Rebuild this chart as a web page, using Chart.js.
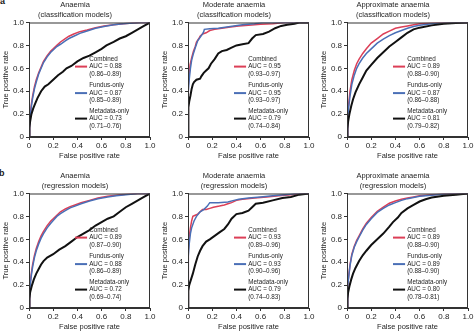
<!DOCTYPE html>
<html>
<head>
<meta charset="utf-8">
<script src="https://cdn.jsdelivr.net/npm/chart.js@4.4.0/dist/chart.umd.min.js"></script>
<style>
  html, body { margin: 0; padding: 0; width: 474px; height: 332px; overflow: hidden; background: #fff; }
  canvas { position: absolute; }
  .tag { position: absolute; font: bold 9px "Liberation Sans", Arial, sans-serif; line-height: 10px; color: #1a1a1a; }
</style>
</head>
<body>
<div class="tag" style="left:0px;top:-4px">a</div>
<div class="tag" style="left:-1px;top:168px">b</div>
<canvas id="p0" width="179" height="161" style="left:0px;top:0px"></canvas>
<canvas id="p1" width="179" height="161" style="left:159px;top:0px"></canvas>
<canvas id="p2" width="179" height="161" style="left:318px;top:0px"></canvas>
<canvas id="p3" width="179" height="161" style="left:0px;top:171px"></canvas>
<canvas id="p4" width="179" height="161" style="left:159px;top:171px"></canvas>
<canvas id="p5" width="179" height="161" style="left:318px;top:171px"></canvas>
<script>
// ROC points [false positive rate, true positive rate]

// a: classification models
const clsAnaemiaCombined = [[0,0],[0.005,0.12],[0.01,0.2],[0.02,0.29],[0.03,0.36],[0.045,0.44],[0.06,0.5],[0.08,0.56],[0.1,0.61],[0.12,0.66],[0.15,0.71],[0.18,0.75],[0.2,0.77],[0.23,0.8],[0.26,0.83],[0.3,0.86],[0.33,0.88],[0.37,0.9],[0.42,0.92],[0.48,0.935],[0.55,0.955],[0.62,0.97],[0.7,0.98],[0.78,0.99],[0.85,0.995],[0.92,1],[1,1]];
const clsAnaemiaFundus = [[0,0],[0.005,0.1],[0.01,0.18],[0.02,0.27],[0.03,0.34],[0.045,0.42],[0.06,0.48],[0.08,0.55],[0.1,0.6],[0.12,0.65],[0.15,0.7],[0.18,0.74],[0.2,0.76],[0.23,0.79],[0.26,0.81],[0.3,0.84],[0.33,0.86],[0.37,0.88],[0.42,0.905],[0.48,0.925],[0.55,0.95],[0.62,0.965],[0.7,0.98],[0.78,0.99],[0.86,0.995],[0.93,1],[1,1]];
const clsAnaemiaMeta = [[0,0],[0.003,0.08],[0.01,0.14],[0.02,0.2],[0.035,0.25],[0.05,0.29],[0.07,0.34],[0.1,0.4],[0.13,0.44],[0.16,0.46],[0.2,0.5],[0.24,0.54],[0.28,0.57],[0.31,0.6],[0.35,0.62],[0.4,0.66],[0.45,0.69],[0.5,0.71],[0.55,0.74],[0.6,0.77],[0.64,0.8],[0.7,0.83],[0.75,0.86],[0.8,0.88],[0.85,0.91],[0.9,0.94],[0.95,0.97],[1,1]];

const clsModerateCombined = [[0,0],[0,0.3],[0.005,0.45],[0.01,0.55],[0.017,0.63],[0.03,0.69],[0.045,0.75],[0.06,0.79],[0.07,0.83],[0.09,0.86],[0.1,0.88],[0.12,0.9],[0.15,0.91],[0.18,0.93],[0.22,0.94],[0.28,0.95],[0.35,0.96],[0.42,0.97],[0.5,0.975],[0.6,0.985],[0.7,0.99],[0.8,1],[1,1]];
const clsModerateFundus = [[0,0],[0,0.25],[0.005,0.4],[0.01,0.5],[0.02,0.6],[0.03,0.67],[0.045,0.73],[0.06,0.78],[0.08,0.84],[0.1,0.87],[0.12,0.9],[0.13,0.92],[0.135,0.94],[0.18,0.945],[0.25,0.95],[0.35,0.965],[0.45,0.98],[0.55,0.99],[0.62,1],[1,1]];
const clsModerateMeta = [[0,0],[0,0.12],[0.003,0.2],[0.006,0.26],[0.01,0.31],[0.02,0.36],[0.03,0.42],[0.04,0.46],[0.05,0.48],[0.07,0.5],[0.1,0.51],[0.11,0.53],[0.13,0.56],[0.15,0.58],[0.17,0.6],[0.19,0.64],[0.22,0.68],[0.25,0.73],[0.28,0.75],[0.32,0.76],[0.36,0.78],[0.4,0.8],[0.45,0.81],[0.5,0.82],[0.53,0.86],[0.56,0.89],[0.62,0.9],[0.67,0.92],[0.72,0.95],[0.77,0.97],[0.82,0.98],[0.88,0.99],[0.92,1],[1,1]];

const clsApproxCombined = [[0,0],[0.003,0.1],[0.008,0.2],[0.015,0.3],[0.025,0.4],[0.04,0.5],[0.06,0.58],[0.08,0.64],[0.1,0.68],[0.13,0.73],[0.16,0.77],[0.2,0.82],[0.25,0.86],[0.3,0.9],[0.35,0.925],[0.4,0.95],[0.45,0.96],[0.5,0.97],[0.55,0.98],[0.6,0.99],[0.7,0.995],[0.8,1],[1,1]];
const clsApproxFundus = [[0,0],[0.003,0.09],[0.008,0.18],[0.015,0.27],[0.025,0.36],[0.04,0.46],[0.06,0.54],[0.08,0.6],[0.1,0.64],[0.13,0.69],[0.16,0.73],[0.2,0.77],[0.25,0.82],[0.3,0.855],[0.35,0.885],[0.4,0.91],[0.45,0.93],[0.5,0.95],[0.55,0.965],[0.6,0.975],[0.7,0.99],[0.8,0.995],[0.9,1],[1,1]];
const clsApproxMeta = [[0,0],[0.003,0.07],[0.01,0.14],[0.02,0.2],[0.035,0.27],[0.05,0.33],[0.07,0.39],[0.1,0.46],[0.13,0.52],[0.16,0.58],[0.2,0.63],[0.25,0.69],[0.3,0.74],[0.35,0.79],[0.4,0.83],[0.45,0.87],[0.5,0.91],[0.55,0.94],[0.6,0.955],[0.7,0.975],[0.8,0.99],[0.9,0.995],[1,1]];

// b: regression models
const regAnaemiaCombined = [[0,0],[0.005,0.14],[0.01,0.22],[0.02,0.31],[0.03,0.38],[0.045,0.46],[0.06,0.52],[0.08,0.58],[0.1,0.63],[0.12,0.67],[0.15,0.72],[0.18,0.76],[0.2,0.78],[0.23,0.81],[0.26,0.84],[0.3,0.865],[0.34,0.885],[0.38,0.9],[0.43,0.92],[0.5,0.94],[0.57,0.96],[0.65,0.975],[0.72,0.985],[0.8,0.993],[0.9,1],[1,1]];
const regAnaemiaFundus = [[0,0],[0.005,0.12],[0.01,0.2],[0.02,0.29],[0.03,0.36],[0.045,0.44],[0.06,0.5],[0.08,0.56],[0.1,0.61],[0.12,0.65],[0.15,0.7],[0.18,0.74],[0.2,0.765],[0.23,0.8],[0.26,0.825],[0.3,0.85],[0.34,0.875],[0.38,0.89],[0.43,0.91],[0.5,0.935],[0.57,0.955],[0.65,0.97],[0.72,0.98],[0.8,0.99],[0.9,1],[1,1]];
const regAnaemiaMeta = [[0,0],[0.003,0.08],[0.01,0.14],[0.025,0.2],[0.04,0.25],[0.06,0.3],[0.08,0.34],[0.1,0.38],[0.12,0.41],[0.15,0.44],[0.2,0.47],[0.25,0.51],[0.3,0.54],[0.35,0.58],[0.4,0.62],[0.45,0.65],[0.5,0.68],[0.55,0.72],[0.6,0.75],[0.65,0.78],[0.7,0.8],[0.75,0.84],[0.8,0.88],[0.85,0.91],[0.9,0.94],[0.95,0.97],[1,1]];

const regModerateCombined = [[0,0],[0,0.3],[0.005,0.5],[0.01,0.62],[0.02,0.7],[0.03,0.76],[0.04,0.8],[0.06,0.81],[0.08,0.82],[0.1,0.84],[0.12,0.86],[0.15,0.86],[0.18,0.87],[0.21,0.88],[0.26,0.89],[0.3,0.9],[0.33,0.91],[0.36,0.92],[0.4,0.94],[0.45,0.95],[0.55,0.96],[0.65,0.97],[0.75,0.98],[0.85,0.99],[0.95,1],[1,1]];
const regModerateFundus = [[0,0],[0,0.25],[0.005,0.45],[0.01,0.56],[0.02,0.65],[0.03,0.7],[0.05,0.76],[0.07,0.8],[0.1,0.84],[0.13,0.86],[0.16,0.89],[0.18,0.92],[0.25,0.92],[0.33,0.925],[0.38,0.94],[0.42,0.95],[0.5,0.96],[0.6,0.97],[0.7,0.98],[0.8,0.99],[0.9,1],[1,1]];
const regModerateMeta = [[0,0],[0,0.1],[0.005,0.15],[0.01,0.2],[0.025,0.25],[0.04,0.3],[0.06,0.38],[0.08,0.45],[0.1,0.5],[0.12,0.54],[0.15,0.58],[0.18,0.6],[0.22,0.63],[0.26,0.66],[0.3,0.69],[0.33,0.73],[0.36,0.78],[0.4,0.82],[0.45,0.83],[0.5,0.85],[0.53,0.88],[0.56,0.91],[0.62,0.92],[0.7,0.94],[0.78,0.96],[0.85,0.97],[0.92,0.99],[1,1]];

const regApproxCombined = [[0,0],[0.003,0.1],[0.008,0.2],[0.015,0.29],[0.025,0.38],[0.04,0.47],[0.06,0.54],[0.08,0.59],[0.1,0.63],[0.13,0.69],[0.16,0.74],[0.2,0.79],[0.25,0.845],[0.3,0.88],[0.35,0.915],[0.4,0.935],[0.45,0.95],[0.5,0.96],[0.55,0.97],[0.6,0.98],[0.7,0.99],[0.8,0.995],[0.9,1],[1,1]];
const regApproxFundus = [[0,0],[0.003,0.09],[0.008,0.19],[0.015,0.28],[0.025,0.37],[0.04,0.46],[0.06,0.53],[0.08,0.58],[0.1,0.62],[0.13,0.68],[0.16,0.73],[0.2,0.78],[0.25,0.835],[0.3,0.87],[0.35,0.9],[0.4,0.92],[0.45,0.94],[0.5,0.955],[0.55,0.965],[0.6,0.975],[0.7,0.985],[0.8,0.995],[0.9,1],[1,1]];
const regApproxMeta = [[0,0],[0.003,0.08],[0.01,0.14],[0.02,0.19],[0.035,0.25],[0.05,0.3],[0.07,0.35],[0.1,0.41],[0.13,0.46],[0.16,0.5],[0.2,0.55],[0.25,0.6],[0.3,0.65],[0.35,0.71],[0.38,0.75],[0.42,0.79],[0.45,0.83],[0.5,0.87],[0.55,0.9],[0.6,0.93],[0.65,0.95],[0.7,0.965],[0.8,0.98],[0.9,0.99],[1,1]];

const panelTitles = [
  ['Anaemia', '(classification models)'],
  ['Moderate anaemia', '(classification models)'],
  ['Approximate anaemia', '(classification models)'],
  ['Anaemia', '(regression models)'],
  ['Moderate anaemia', '(regression models)'],
  ['Approximate anaemia', '(regression models)']
];
const seriesNames = ['Combined', 'Fundus-only', 'Metadata-only'];
const aucCombined = [0.88, 0.95, 0.89, 0.89, 0.93, 0.89];
const aucFundus = [0.87, 0.95, 0.87, 0.88, 0.93, 0.89];
const aucMeta = [0.73, 0.79, 0.81, 0.72, 0.79, 0.80];
const ciCombined = ['0.86–0.89', '0.93–0.97', '0.88–0.90', '0.87–0.90', '0.89–0.96', '0.88–0.90'];
const ciFundus = ['0.85–0.89', '0.93–0.97', '0.86–0.88', '0.86–0.89', '0.90–0.96', '0.88–0.90'];
const ciMeta = ['0.71–0.76', '0.74–0.84', '0.79–0.82', '0.69–0.74', '0.74–0.83', '0.78–0.81'];
const axisTicks = [0, 0.2, 0.4, 0.6, 0.8, 1.0];

const curves = [
  [clsAnaemiaCombined, clsAnaemiaFundus, clsAnaemiaMeta],
  [clsModerateCombined, clsModerateFundus, clsModerateMeta],
  [clsApproxCombined, clsApproxFundus, clsApproxMeta],
  [regAnaemiaCombined, regAnaemiaFundus, regAnaemiaMeta],
  [regModerateCombined, regModerateFundus, regModerateMeta],
  [regApproxCombined, regApproxFundus, regApproxMeta]
];

const FONT = '"Liberation Sans", Arial, Helvetica, sans-serif';
const INK = '#1e1e1e';
const colours = ['#dc3f57', '#4a6fb6', '#111111'];
const widths = [1.5, 1.5, 2];

Chart.defaults.font.family = FONT;
Chart.defaults.color = INK;

// closes the plot box and writes the AUC key inside it
const boxAndKey = {
  id: 'boxAndKey',
  afterDatasetsDraw(chart, args, opts) {
    const {ctx, chartArea: a} = chart;
    const w = a.right - a.left;
    ctx.save();
    ctx.strokeStyle = '#333';
    ctx.lineWidth = 1;
    ctx.strokeRect(a.left + 0.5, a.top + 0.5, w - 1, a.bottom - a.top - 1);

    const k = opts.panel;
    const aucs = [aucCombined[k], aucFundus[k], aucMeta[k]];
    const cis = [ciCombined[k], ciFundus[k], ciMeta[k]];
    const groupTop = [36.5, 63, 88.5];
    const step = 7.6;
    const textX = a.left + w * 0.497;
    ctx.font = '6.3px ' + FONT;
    ctx.fillStyle = INK;
    ctx.textBaseline = 'middle';
    ctx.textAlign = 'left';
    for (let i = 0; i < 3; i++) {
      const y0 = a.top + groupTop[i];
      ctx.fillText(seriesNames[i], textX, y0);
      ctx.fillText('AUC = ' + aucs[i].toFixed(2), textX, y0 + step);
      ctx.fillText('(' + cis[i] + ')', textX, y0 + step * 2);
      ctx.beginPath();
      ctx.strokeStyle = colours[i];
      ctx.lineWidth = 2;
      ctx.moveTo(a.left + w * 0.38, y0 + step);
      ctx.lineTo(a.left + w * 0.48, y0 + step);
      ctx.stroke();
    }
    ctx.restore();
  }
};

function tickText(v) {
  return v === 0 ? '0' : v.toFixed(1);
}

function makeAxis(title, isX) {
  return {
    type: 'linear',
    min: 0,
    max: 1,
    afterBuildTicks: s => { s.ticks = axisTicks.map(v => ({value: v})); },
    afterFit: s => { if (isX) s.height = 24; else s.width = 29; },
    grid: { drawOnChartArea: false, drawTicks: true, tickLength: 3, color: '#333' },
    border: { display: true, color: '#333', width: 1 },
    ticks: { font: { size: 8 }, color: INK, padding: isX ? 1 : 2, maxRotation: 0, callback: tickText },
    title: {
      display: true,
      text: title,
      font: { size: 7.5 },
      color: INK,
      padding: isX ? { top: 0, bottom: 1 } : { top: 1.5, bottom: 0 }
    }
  };
}

for (let k = 0; k < 6; k++) {
  // drawn last-to-first, so Combined sits underneath
  const order = [2, 1, 0];
  const datasets = order.map(i => ({
    label: seriesNames[i],
    data: curves[k][i].map(p => ({x: p[0], y: p[1]})),
    borderColor: colours[i],
    borderWidth: widths[i],
    pointRadius: 0,
    tension: 0,
    fill: false
  }));
  new Chart(document.getElementById('p' + k), {
    type: 'line',
    data: { datasets },
    options: {
      responsive: false,
      animation: false,
      events: [],
      layout: { padding: { left: 0, right: 29, top: 0, bottom: 0 } },
      scales: {
        x: makeAxis('False positive rate', true),
        y: makeAxis('True positive rate', false)
      },
      plugins: {
        legend: { display: false },
        tooltip: { enabled: false },
        title: {
          display: true,
          text: panelTitles[k],
          font: { size: 7.5, lineHeight: 1.25, weight: 'normal' },
          color: INK,
          padding: { top: 0.5, bottom: 3.25 }
        },
        boxAndKey: { panel: k }
      }
    },
    plugins: [boxAndKey]
  });
}
</script>
</body>
</html>
